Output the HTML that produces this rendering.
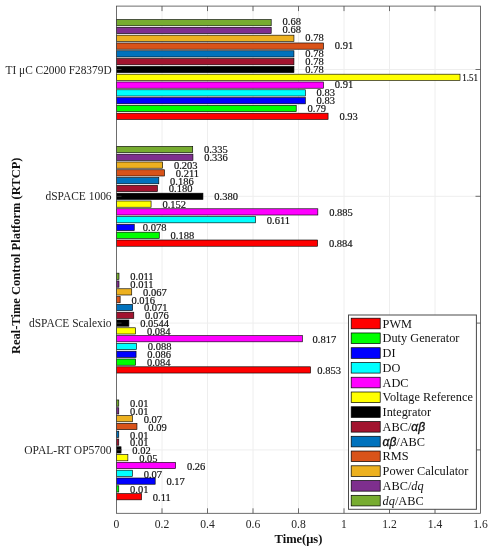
<!DOCTYPE html>
<html lang="en"><head><meta charset="utf-8"><title>RTCP execution time</title>
<style>html,body{margin:0;padding:0;background:#fff}svg{display:block}text{font-family:"Liberation Serif","Times New Roman",serif;fill:#1a1a1a}.lab{font-size:10.5px;fill:#111;stroke:#111;stroke-width:0.18px}.tick{font-size:11.6px;fill:#262626}.leg{font-size:12.3px;fill:#111}.tit{font-size:12.5px;font-weight:bold;fill:#111}.gk{font-family:"Liberation Sans","DejaVu Sans",sans-serif;font-style:italic;font-size:12px;stroke:#111;stroke-width:0.35px}.it{font-style:italic}</style></head><body>
<svg width="492" height="550" viewBox="0 0 492 550">
<rect x="0" y="0" width="492" height="550" fill="#ffffff"/>
<g stroke="#eeeeee" stroke-width="1"><line x1="162.00" y1="6.10" x2="162.00" y2="513.30"/><line x1="207.50" y1="6.10" x2="207.50" y2="513.30"/><line x1="253.00" y1="6.10" x2="253.00" y2="513.30"/><line x1="298.50" y1="6.10" x2="298.50" y2="513.30"/><line x1="344.00" y1="6.10" x2="344.00" y2="513.30"/><line x1="389.50" y1="6.10" x2="389.50" y2="513.30"/><line x1="435.00" y1="6.10" x2="435.00" y2="513.30"/><line x1="116.50" y1="449.90" x2="480.50" y2="449.90"/><line x1="116.50" y1="323.10" x2="480.50" y2="323.10"/><line x1="116.50" y1="196.30" x2="480.50" y2="196.30"/><line x1="116.50" y1="69.50" x2="480.50" y2="69.50"/></g>
<g stroke="#000" stroke-width="0.62"><rect x="116.50" y="493.60" width="25.03" height="6.24" fill="#ff0000"/><rect x="116.50" y="485.79" width="2.28" height="6.24" fill="#00ff00"/><rect x="116.50" y="477.99" width="38.68" height="6.24" fill="#0000ff"/><rect x="116.50" y="470.19" width="15.93" height="6.24" fill="#00ffff"/><rect x="116.50" y="462.38" width="59.15" height="6.24" fill="#ff00ff"/><rect x="116.50" y="454.58" width="11.38" height="6.24" fill="#ffff00"/><rect x="116.50" y="446.78" width="4.55" height="6.24" fill="#000000"/><rect x="116.50" y="438.98" width="2.28" height="6.24" fill="#a2142f"/><rect x="116.50" y="431.17" width="2.28" height="6.24" fill="#0072bd"/><rect x="116.50" y="423.37" width="20.47" height="6.24" fill="#d95319"/><rect x="116.50" y="415.57" width="15.93" height="6.24" fill="#edb120"/><rect x="116.50" y="407.76" width="2.28" height="6.24" fill="#7e2f8e"/><rect x="116.50" y="399.96" width="2.28" height="6.24" fill="#77ac30"/><rect x="116.50" y="366.80" width="194.06" height="6.24" fill="#ff0000"/><rect x="116.50" y="358.99" width="19.11" height="6.24" fill="#00ff00"/><rect x="116.50" y="351.19" width="19.56" height="6.24" fill="#0000ff"/><rect x="116.50" y="343.39" width="20.02" height="6.24" fill="#00ffff"/><rect x="116.50" y="335.58" width="185.87" height="6.24" fill="#ff00ff"/><rect x="116.50" y="327.78" width="19.11" height="6.24" fill="#ffff00"/><rect x="116.50" y="319.98" width="12.38" height="6.24" fill="#000000"/><rect x="116.50" y="312.18" width="17.29" height="6.24" fill="#a2142f"/><rect x="116.50" y="304.37" width="16.15" height="6.24" fill="#0072bd"/><rect x="116.50" y="296.57" width="3.64" height="6.24" fill="#d95319"/><rect x="116.50" y="288.77" width="15.24" height="6.24" fill="#edb120"/><rect x="116.50" y="280.96" width="2.50" height="6.24" fill="#7e2f8e"/><rect x="116.50" y="273.16" width="2.50" height="6.24" fill="#77ac30"/><rect x="116.50" y="240.00" width="201.11" height="6.24" fill="#ff0000"/><rect x="116.50" y="232.19" width="42.77" height="6.24" fill="#00ff00"/><rect x="116.50" y="224.39" width="17.75" height="6.24" fill="#0000ff"/><rect x="116.50" y="216.59" width="139.00" height="6.24" fill="#00ffff"/><rect x="116.50" y="208.78" width="201.34" height="6.24" fill="#ff00ff"/><rect x="116.50" y="200.98" width="34.58" height="6.24" fill="#ffff00"/><rect x="116.50" y="193.18" width="86.45" height="6.24" fill="#000000"/><rect x="116.50" y="185.38" width="40.95" height="6.24" fill="#a2142f"/><rect x="116.50" y="177.57" width="42.31" height="6.24" fill="#0072bd"/><rect x="116.50" y="169.77" width="48.00" height="6.24" fill="#d95319"/><rect x="116.50" y="161.97" width="46.18" height="6.24" fill="#edb120"/><rect x="116.50" y="154.16" width="76.44" height="6.24" fill="#7e2f8e"/><rect x="116.50" y="146.36" width="76.21" height="6.24" fill="#77ac30"/><rect x="116.50" y="113.20" width="211.58" height="6.24" fill="#ff0000"/><rect x="116.50" y="105.39" width="179.73" height="6.24" fill="#00ff00"/><rect x="116.50" y="97.59" width="188.82" height="6.24" fill="#0000ff"/><rect x="116.50" y="89.79" width="188.82" height="6.24" fill="#00ffff"/><rect x="116.50" y="81.98" width="207.02" height="6.24" fill="#ff00ff"/><rect x="116.50" y="74.18" width="343.52" height="6.24" fill="#ffff00"/><rect x="116.50" y="66.38" width="177.45" height="6.24" fill="#000000"/><rect x="116.50" y="58.58" width="177.45" height="6.24" fill="#a2142f"/><rect x="116.50" y="50.77" width="177.45" height="6.24" fill="#0072bd"/><rect x="116.50" y="42.97" width="207.02" height="6.24" fill="#d95319"/><rect x="116.50" y="35.17" width="177.45" height="6.24" fill="#edb120"/><rect x="116.50" y="27.36" width="154.70" height="6.24" fill="#7e2f8e"/><rect x="116.50" y="19.56" width="154.70" height="6.24" fill="#77ac30"/></g>
<g><text class="lab" x="152.83" y="500.97">0.11</text><text class="lab" x="130.08" y="493.17">0.01</text><text class="lab" x="166.48" y="485.36">0.17</text><text class="lab" x="143.73" y="477.56">0.07</text><text class="lab" x="186.95" y="469.76">0.26</text><text class="lab" x="139.18" y="461.95">0.05</text><text class="lab" x="132.35" y="454.15">0.02</text><text class="lab" x="130.08" y="446.35">0.01</text><text class="lab" x="130.08" y="438.54">0.01</text><text class="lab" x="148.28" y="430.74">0.09</text><text class="lab" x="143.73" y="422.94">0.07</text><text class="lab" x="130.08" y="415.13">0.01</text><text class="lab" x="130.08" y="407.33">0.01</text><text class="lab" x="317.36" y="373.77">0.853</text><text class="lab" x="146.91" y="365.97">0.084</text><text class="lab" x="147.37" y="358.16">0.086</text><text class="lab" x="147.82" y="350.36">0.088</text><text class="lab" x="312.57" y="342.56">0.817</text><text class="lab" x="146.91" y="334.75">0.084</text><text class="lab" x="140.18" y="326.95">0.0544</text><text class="lab" x="145.09" y="319.15">0.076</text><text class="lab" x="143.95" y="311.34">0.071</text><text class="lab" x="131.44" y="303.54">0.016</text><text class="lab" x="143.04" y="295.74">0.067</text><text class="lab" x="130.30" y="287.93">0.011</text><text class="lab" x="130.30" y="280.13">0.011</text><text class="lab" x="328.91" y="246.97">0.884</text><text class="lab" x="170.57" y="239.17">0.188</text><text class="lab" x="142.84" y="231.36">0.078</text><text class="lab" x="266.80" y="223.56">0.611</text><text class="lab" x="329.14" y="215.76">0.885</text><text class="lab" x="162.38" y="207.95">0.152</text><text class="lab" x="214.25" y="200.15">0.380</text><text class="lab" x="168.75" y="192.35">0.180</text><text class="lab" x="170.12" y="184.54">0.186</text><text class="lab" x="175.80" y="176.74">0.211</text><text class="lab" x="173.98" y="168.94">0.203</text><text class="lab" x="204.24" y="161.13">0.336</text><text class="lab" x="204.01" y="153.33">0.335</text><text class="lab" x="339.38" y="120.00">0.93</text><text class="lab" x="307.53" y="112.10">0.79</text><text class="lab" x="316.62" y="104.21">0.83</text><text class="lab" x="316.62" y="96.31">0.83</text><text class="lab" x="334.82" y="88.42">0.91</text><text class="lab" x="462.22" y="80.52" textLength="15.7" lengthAdjust="spacingAndGlyphs">1.51</text><text class="lab" x="305.25" y="72.62">0.78</text><text class="lab" x="305.25" y="64.73">0.78</text><text class="lab" x="305.25" y="56.83">0.78</text><text class="lab" x="334.82" y="48.94">0.91</text><text class="lab" x="305.25" y="41.04">0.78</text><text class="lab" x="282.50" y="33.15">0.68</text><text class="lab" x="282.50" y="25.25">0.68</text></g>
<g stroke="#4a4a4a" stroke-width="0.8"><line x1="162.00" y1="513.30" x2="162.00" y2="508.30"/><line x1="162.00" y1="6.10" x2="162.00" y2="11.10"/><line x1="207.50" y1="513.30" x2="207.50" y2="508.30"/><line x1="207.50" y1="6.10" x2="207.50" y2="11.10"/><line x1="253.00" y1="513.30" x2="253.00" y2="508.30"/><line x1="253.00" y1="6.10" x2="253.00" y2="11.10"/><line x1="298.50" y1="513.30" x2="298.50" y2="508.30"/><line x1="298.50" y1="6.10" x2="298.50" y2="11.10"/><line x1="344.00" y1="513.30" x2="344.00" y2="508.30"/><line x1="344.00" y1="6.10" x2="344.00" y2="11.10"/><line x1="389.50" y1="513.30" x2="389.50" y2="508.30"/><line x1="389.50" y1="6.10" x2="389.50" y2="11.10"/><line x1="435.00" y1="513.30" x2="435.00" y2="508.30"/><line x1="435.00" y1="6.10" x2="435.00" y2="11.10"/><line x1="116.50" y1="449.90" x2="121.50" y2="449.90"/><line x1="480.50" y1="449.90" x2="475.50" y2="449.90"/><line x1="116.50" y1="323.10" x2="121.50" y2="323.10"/><line x1="480.50" y1="323.10" x2="475.50" y2="323.10"/><line x1="116.50" y1="196.30" x2="121.50" y2="196.30"/><line x1="480.50" y1="196.30" x2="475.50" y2="196.30"/><line x1="116.50" y1="69.50" x2="121.50" y2="69.50"/><line x1="480.50" y1="69.50" x2="475.50" y2="69.50"/></g>
<g><text class="tick" text-anchor="middle" x="116.50" y="527.60">0</text><text class="tick" text-anchor="middle" x="162.00" y="527.60">0.2</text><text class="tick" text-anchor="middle" x="207.50" y="527.60">0.4</text><text class="tick" text-anchor="middle" x="253.00" y="527.60">0.6</text><text class="tick" text-anchor="middle" x="298.50" y="527.60">0.8</text><text class="tick" text-anchor="middle" x="344.00" y="527.60">1</text><text class="tick" text-anchor="middle" x="389.50" y="527.60">1.2</text><text class="tick" text-anchor="middle" x="435.00" y="527.60">1.4</text><text class="tick" text-anchor="middle" x="480.50" y="527.60">1.6</text><text class="tick" style="font-size:12.3px" x="24.30" y="453.95" textLength="87.30" lengthAdjust="spacingAndGlyphs">OPAL-RT OP5700</text><text class="tick" style="font-size:12.3px" x="29.00" y="327.15" textLength="82.60" lengthAdjust="spacingAndGlyphs">dSPACE Scalexio</text><text class="tick" style="font-size:12.3px" x="45.50" y="200.35" textLength="66.10" lengthAdjust="spacingAndGlyphs">dSPACE 1006</text><text class="tick" style="font-size:12.3px" x="5.50" y="73.55" textLength="106.10" lengthAdjust="spacingAndGlyphs">TI μC C2000 F28379D</text></g>
<text class="tit" text-anchor="middle" x="298.5" y="542.9">Time(μs)</text>
<text class="tit" text-anchor="middle" transform="translate(20.2 255.8) rotate(-90)">Real-Time Control Platform (RTCP)</text>
<rect x="348.50" y="315.00" width="127.90" height="194.30" fill="#fff" stroke="#4a4a4a" stroke-width="1"/>
<g stroke="#000" stroke-width="0.7"><rect x="351.2" y="318.20" width="29" height="10.6" fill="#ff0000"/><rect x="351.2" y="332.96" width="29" height="10.6" fill="#00ff00"/><rect x="351.2" y="347.72" width="29" height="10.6" fill="#0000ff"/><rect x="351.2" y="362.48" width="29" height="10.6" fill="#00ffff"/><rect x="351.2" y="377.24" width="29" height="10.6" fill="#ff00ff"/><rect x="351.2" y="392.00" width="29" height="10.6" fill="#ffff00"/><rect x="351.2" y="406.76" width="29" height="10.6" fill="#000000"/><rect x="351.2" y="421.52" width="29" height="10.6" fill="#a2142f"/><rect x="351.2" y="436.28" width="29" height="10.6" fill="#0072bd"/><rect x="351.2" y="451.04" width="29" height="10.6" fill="#d95319"/><rect x="351.2" y="465.80" width="29" height="10.6" fill="#edb120"/><rect x="351.2" y="480.56" width="29" height="10.6" fill="#7e2f8e"/><rect x="351.2" y="495.32" width="29" height="10.6" fill="#77ac30"/></g>
<g><text class="leg" x="382.6" y="327.50">PWM</text><text class="leg" x="382.6" y="342.26">Duty Generator</text><text class="leg" x="382.6" y="357.02">DI</text><text class="leg" x="382.6" y="371.78">DO</text><text class="leg" x="382.6" y="386.54">ADC</text><text class="leg" x="382.6" y="401.30">Voltage Reference</text><text class="leg" x="382.6" y="416.06">Integrator</text><text class="leg" x="382.6" y="430.82">ABC/<tspan class="gk">αβ</tspan></text><text class="leg" x="382.6" y="445.58"><tspan class="gk">αβ</tspan>/ABC</text><text class="leg" x="382.6" y="460.34">RMS</text><text class="leg" x="382.6" y="475.10">Power Calculator</text><text class="leg" x="382.6" y="489.86">ABC/<tspan class="it">dq</tspan></text><text class="leg" x="382.6" y="504.62"><tspan class="it">dq</tspan>/ABC</text></g>
<rect x="116.50" y="6.10" width="364.00" height="507.20" fill="none" stroke="#4a4a4a" stroke-width="0.8"/>
</svg></body></html>
